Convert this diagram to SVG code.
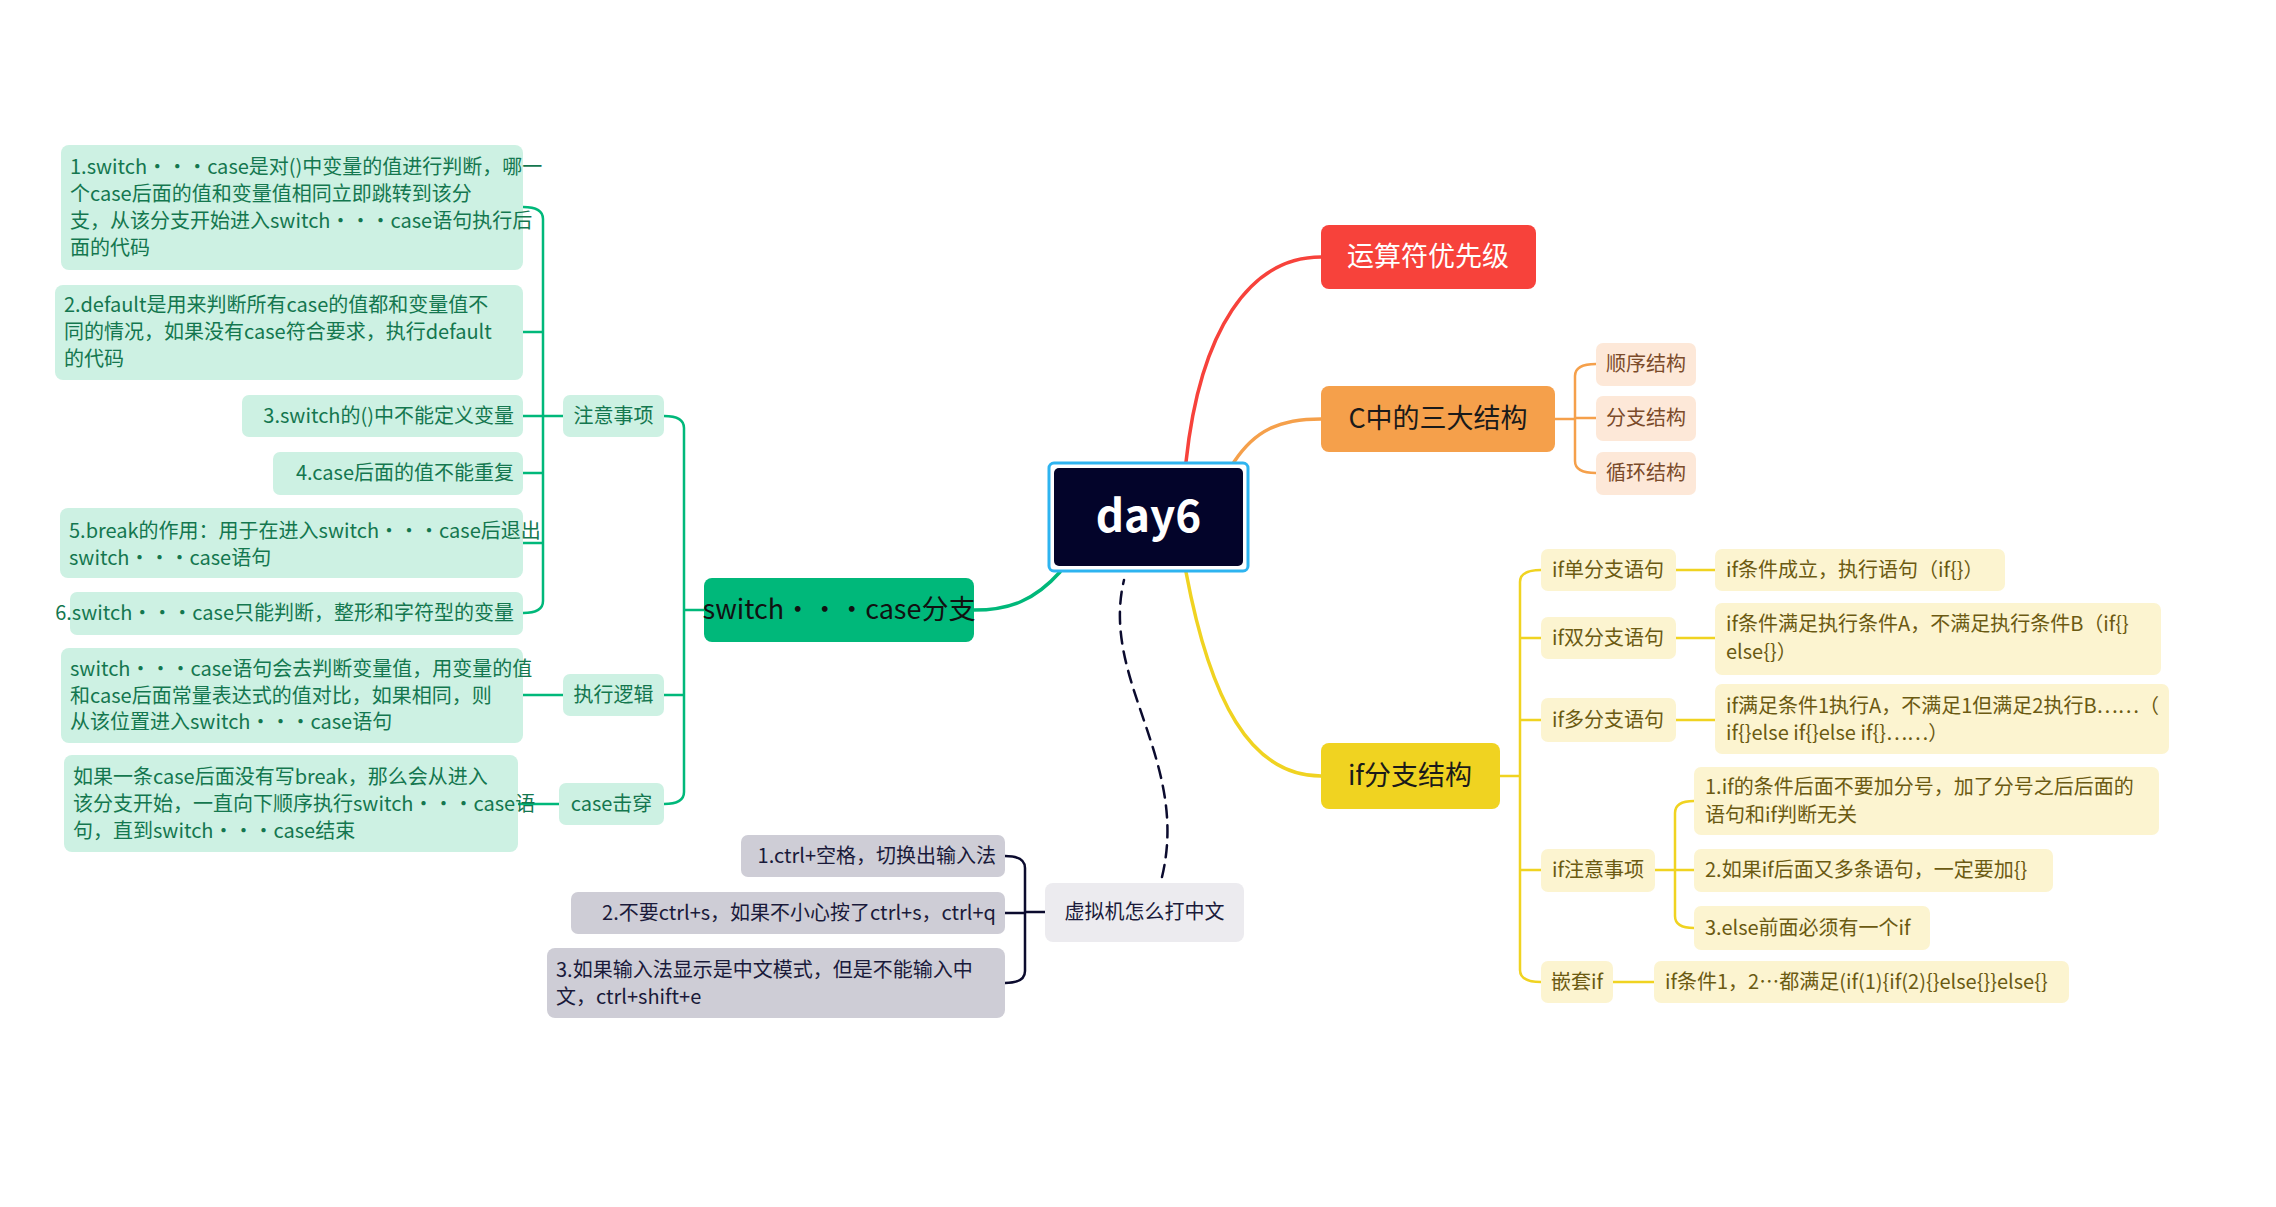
<svg xmlns="http://www.w3.org/2000/svg" width="2276" height="1207" viewBox="0 0 2276 1207">
<defs>
<style>
text{font-family:"Noto Sans CJK SC","Noto Sans",sans-serif;}
.lf{font-size:20px;}
.g rect{fill:#cdf1e3;} .g text{fill:#14774f;}
.y rect{fill:#fcf4d0;} .y text{fill:#6b5a12;}
.o rect{fill:#fde8d8;} .o text{fill:#7b4b2a;}
.v rect{fill:#cecdd6;} .v text{fill:#1a1a3a;}
.main{font-size:27px;}
path{fill:none;}
</style>
<marker id="ah" viewBox="0 0 10 10" refX="5" refY="5" markerWidth="6" markerHeight="6" orient="auto-start-reverse"><path d="M0,0 L10,5 L0,10 z" fill="#0b0b2e"/></marker>
</defs>
<rect width="2276" height="1207" fill="#ffffff"/>
<g id="connectors" stroke-linecap="round">
<path d="M1186,462 C1200,330 1250,257 1321,257" stroke="#f7423b" stroke-width="3.5"/>
<path d="M1234,462 C1255,430 1280,419 1321,419" stroke="#f5a04b" stroke-width="3.5"/>
<path d="M1186,572 C1210,700 1250,776 1321,776" stroke="#f0d321" stroke-width="3.5"/>
<path d="M1060,572 C1035,600 1010,610 974,610" stroke="#00b87a" stroke-width="3.5"/>
<path d="M1162,877 C1190,760 1100,680 1124,580" stroke="#0b0b2e" stroke-width="2.5" stroke-dasharray="12,8" marker-end="url(#ah)"/>
<g stroke="#00b87a" stroke-width="2.5">
<path d="M704,610 H684 M664,416 Q684,416 684,428 V792 Q684,804 664,804 M664,695 H684"/>
<path d="M563,416 H543 M523,207 Q543,207 543,219 V601 Q543,613 523,613 M523,332 H543 M523,416 H543 M523,473 H543 M523,543 H543"/>
<path d="M563,695 H523 M559,804 H518"/>
</g>
<g stroke="#0b0b2e" stroke-width="2.5">
<path d="M1045,912 H1025 M1005,856 Q1025,856 1025,868 V971 Q1025,983 1005,983 M1005,913 H1025"/>
</g>
<g stroke="#f5a04b" stroke-width="2.5">
<path d="M1555,419 H1575 M1596,364 Q1575,364 1575,376 V461 Q1575,473 1596,473 M1575,418 H1596"/>
</g>
<g stroke="#f0d321" stroke-width="2.5">
<path d="M1500,776 H1520 M1541,570 Q1520,570 1520,582 V970 Q1520,982 1541,982 M1520,638 H1541 M1520,720 H1541 M1520,870 H1541"/>
<path d="M1676,570 H1715 M1676,638 H1715 M1676,720 H1715 M1613,982 H1654"/>
<path d="M1655,870 H1675 M1694,801 Q1675,801 1675,813 V916 Q1675,928 1694,928 M1675,870 H1694"/>
</g>
</g>
<g id="day6">
<rect x="1049" y="463" width="199" height="108" rx="5" fill="none" stroke="#2eb4f0" stroke-width="3"/>
<rect x="1054" y="468" width="189" height="98" rx="5" fill="#03042a"/>
<text x="1148.5" y="532" text-anchor="middle" font-size="44" fill="#ffffff" font-weight="bold">day6</text>
</g>
<g id="n-ysf"><rect x="1321" y="225" width="215" height="64" rx="8" fill="#f7423b"/><text class="main" x="1428" y="266" text-anchor="middle" fill="#fff">运算符优先级</text></g>
<g id="n-c3"><rect x="1321" y="386" width="234" height="66" rx="8" fill="#f5a04b"/><text class="main" x="1438" y="428" text-anchor="middle" fill="#1a1a1a">C中的三大结构</text></g>
<g id="n-if"><rect x="1321" y="743" width="179" height="66" rx="8" fill="#f0d321"/><text class="main" x="1410" y="785" text-anchor="middle" fill="#1a1a1a">if分支结构</text></g>
<g id="n-sw"><rect x="704" y="578" width="270" height="64" rx="8" fill="#00b87a"/><text class="main" x="839" y="619" text-anchor="middle" fill="#111">switch···case分支</text></g>
<g id="n-vm"><rect x="1045" y="883" width="199" height="59" rx="8" fill="#ecebef"/><text class="lf" x="1144.5" y="919" text-anchor="middle" fill="#1a1a3a">虚拟机怎么打中文</text></g>

<g class="o lf">
<g id="c1"><rect x="1596" y="343" width="100" height="43" rx="7"/><text x="1646" y="371" text-anchor="middle">顺序结构</text></g>
<g id="c2"><rect x="1596" y="396" width="100" height="45" rx="7"/><text x="1646" y="425" text-anchor="middle">分支结构</text></g>
<g id="c3"><rect x="1596" y="452" width="100" height="43" rx="7"/><text x="1646" y="480" text-anchor="middle">循环结构</text></g>
</g>

<g class="y lf">
<g id="i1"><rect x="1541" y="549" width="135" height="42" rx="7"/><text x="1608" y="577" text-anchor="middle">if单分支语句</text></g>
<g id="i1a"><rect x="1715" y="549" width="290" height="42" rx="7"/><text x="1726" y="577">if条件成立，执行语句（if{}）</text></g>
<g id="i2"><rect x="1541" y="617" width="135" height="42" rx="7"/><text x="1608" y="645" text-anchor="middle">if双分支语句</text></g>
<g id="i2a"><rect x="1715" y="603" width="446" height="72" rx="7"/><text x="1726" y="631">if条件满足执行条件A，不满足执行条件B（if{}</text><text x="1726" y="659">else{}）</text></g>
<g id="i3"><rect x="1541" y="698" width="135" height="44" rx="7"/><text x="1608" y="727" text-anchor="middle">if多分支语句</text></g>
<g id="i3a"><rect x="1715" y="684" width="454" height="70" rx="7"/><text x="1726" y="713">if满足条件1执行A，不满足1但满足2执行B……（</text><text x="1726" y="740">if{}else if{}else if{}……）</text></g>
<g id="i4"><rect x="1541" y="849" width="114" height="43" rx="7"/><text x="1598" y="877" text-anchor="middle">if注意事项</text></g>
<g id="i4a"><rect x="1694" y="767" width="465" height="68" rx="7"/><text x="1705" y="794">1.if的条件后面不要加分号，加了分号之后后面的</text><text x="1705" y="822">语句和if判断无关</text></g>
<g id="i4b"><rect x="1694" y="849" width="359" height="43" rx="7"/><text x="1705" y="877">2.如果if后面又多条语句，一定要加{}</text></g>
<g id="i4c"><rect x="1694" y="906" width="236" height="44" rx="7"/><text x="1705" y="935">3.else前面必须有一个if</text></g>
<g id="i5"><rect x="1541" y="961" width="72" height="42" rx="7"/><text x="1577" y="989" text-anchor="middle">嵌套if</text></g>
<g id="i5a"><rect x="1654" y="961" width="415" height="42" rx="7"/><text x="1665" y="989">if条件1，2…都满足(if(1){if(2){}else{}}else{}</text></g>
</g>

<g class="g lf">
<g id="s1"><rect x="563" y="395" width="101" height="42" rx="7"/><text x="613.5" y="423" text-anchor="middle">注意事项</text></g>
<g id="s1a"><rect x="61" y="145" width="462" height="125" rx="8"/><text x="70" y="174">1.switch···case是对()中变量的值进行判断，哪一</text><text x="70" y="201">个case后面的值和变量值相同立即跳转到该分</text><text x="70" y="228">支，从该分支开始进入switch···case语句执行后</text><text x="70" y="255">面的代码</text></g>
<g id="s1b"><rect x="55" y="285" width="468" height="95" rx="8"/><text x="64" y="312">2.default是用来判断所有case的值都和变量值不</text><text x="64" y="339">同的情况，如果没有case符合要求，执行default</text><text x="64" y="366">的代码</text></g>
<g id="s1c"><rect x="242" y="395" width="281" height="42" rx="7"/><text x="514" y="423" text-anchor="end">3.switch的()中不能定义变量</text></g>
<g id="s1d"><rect x="273" y="452" width="250" height="43" rx="7"/><text x="514" y="480" text-anchor="end">4.case后面的值不能重复</text></g>
<g id="s1e"><rect x="60" y="508" width="463" height="70" rx="8"/><text x="69" y="538">5.break的作用：用于在进入switch···case后退出</text><text x="69" y="565">switch···case语句</text></g>
<g id="s1f"><rect x="70" y="592" width="453" height="43" rx="7"/><text x="514" y="620" text-anchor="end">6.switch···case只能判断，整形和字符型的变量</text></g>
<g id="s2"><rect x="563" y="674" width="101" height="42" rx="7"/><text x="613.5" y="702" text-anchor="middle">执行逻辑</text></g>
<g id="s2a"><rect x="61" y="648" width="462" height="95" rx="8"/><text x="70" y="676"> switch···case语句会去判断变量值，用变量的值</text><text x="70" y="703">和case后面常量表达式的值对比，如果相同，则</text><text x="70" y="729">从该位置进入switch···case语句</text></g>
<g id="s3"><rect x="559" y="783" width="105" height="42" rx="7"/><text x="611.5" y="811" text-anchor="middle">case击穿</text></g>
<g id="s3a"><rect x="64" y="755" width="454" height="97" rx="8"/><text x="73" y="784">如果一条case后面没有写break，那么会从进入</text><text x="73" y="811">该分支开始，一直向下顺序执行switch···case语</text><text x="73" y="838">句，直到switch···case结束</text></g>
</g>

<g class="v lf">
<g id="v1"><rect x="741" y="835" width="264" height="42" rx="7"/><text x="996" y="863" text-anchor="end">1.ctrl+空格，切换出输入法</text></g>
<g id="v2"><rect x="571" y="892" width="434" height="42" rx="7"/><text x="996" y="920" text-anchor="end">2.不要ctrl+s，如果不小心按了ctrl+s，ctrl+q</text></g>
<g id="v3"><rect x="547" y="948" width="458" height="70" rx="8"/><text x="556" y="977">3.如果输入法显示是中文模式，但是不能输入中</text><text x="556" y="1004">文，ctrl+shift+e</text></g>
</g>
</svg>
